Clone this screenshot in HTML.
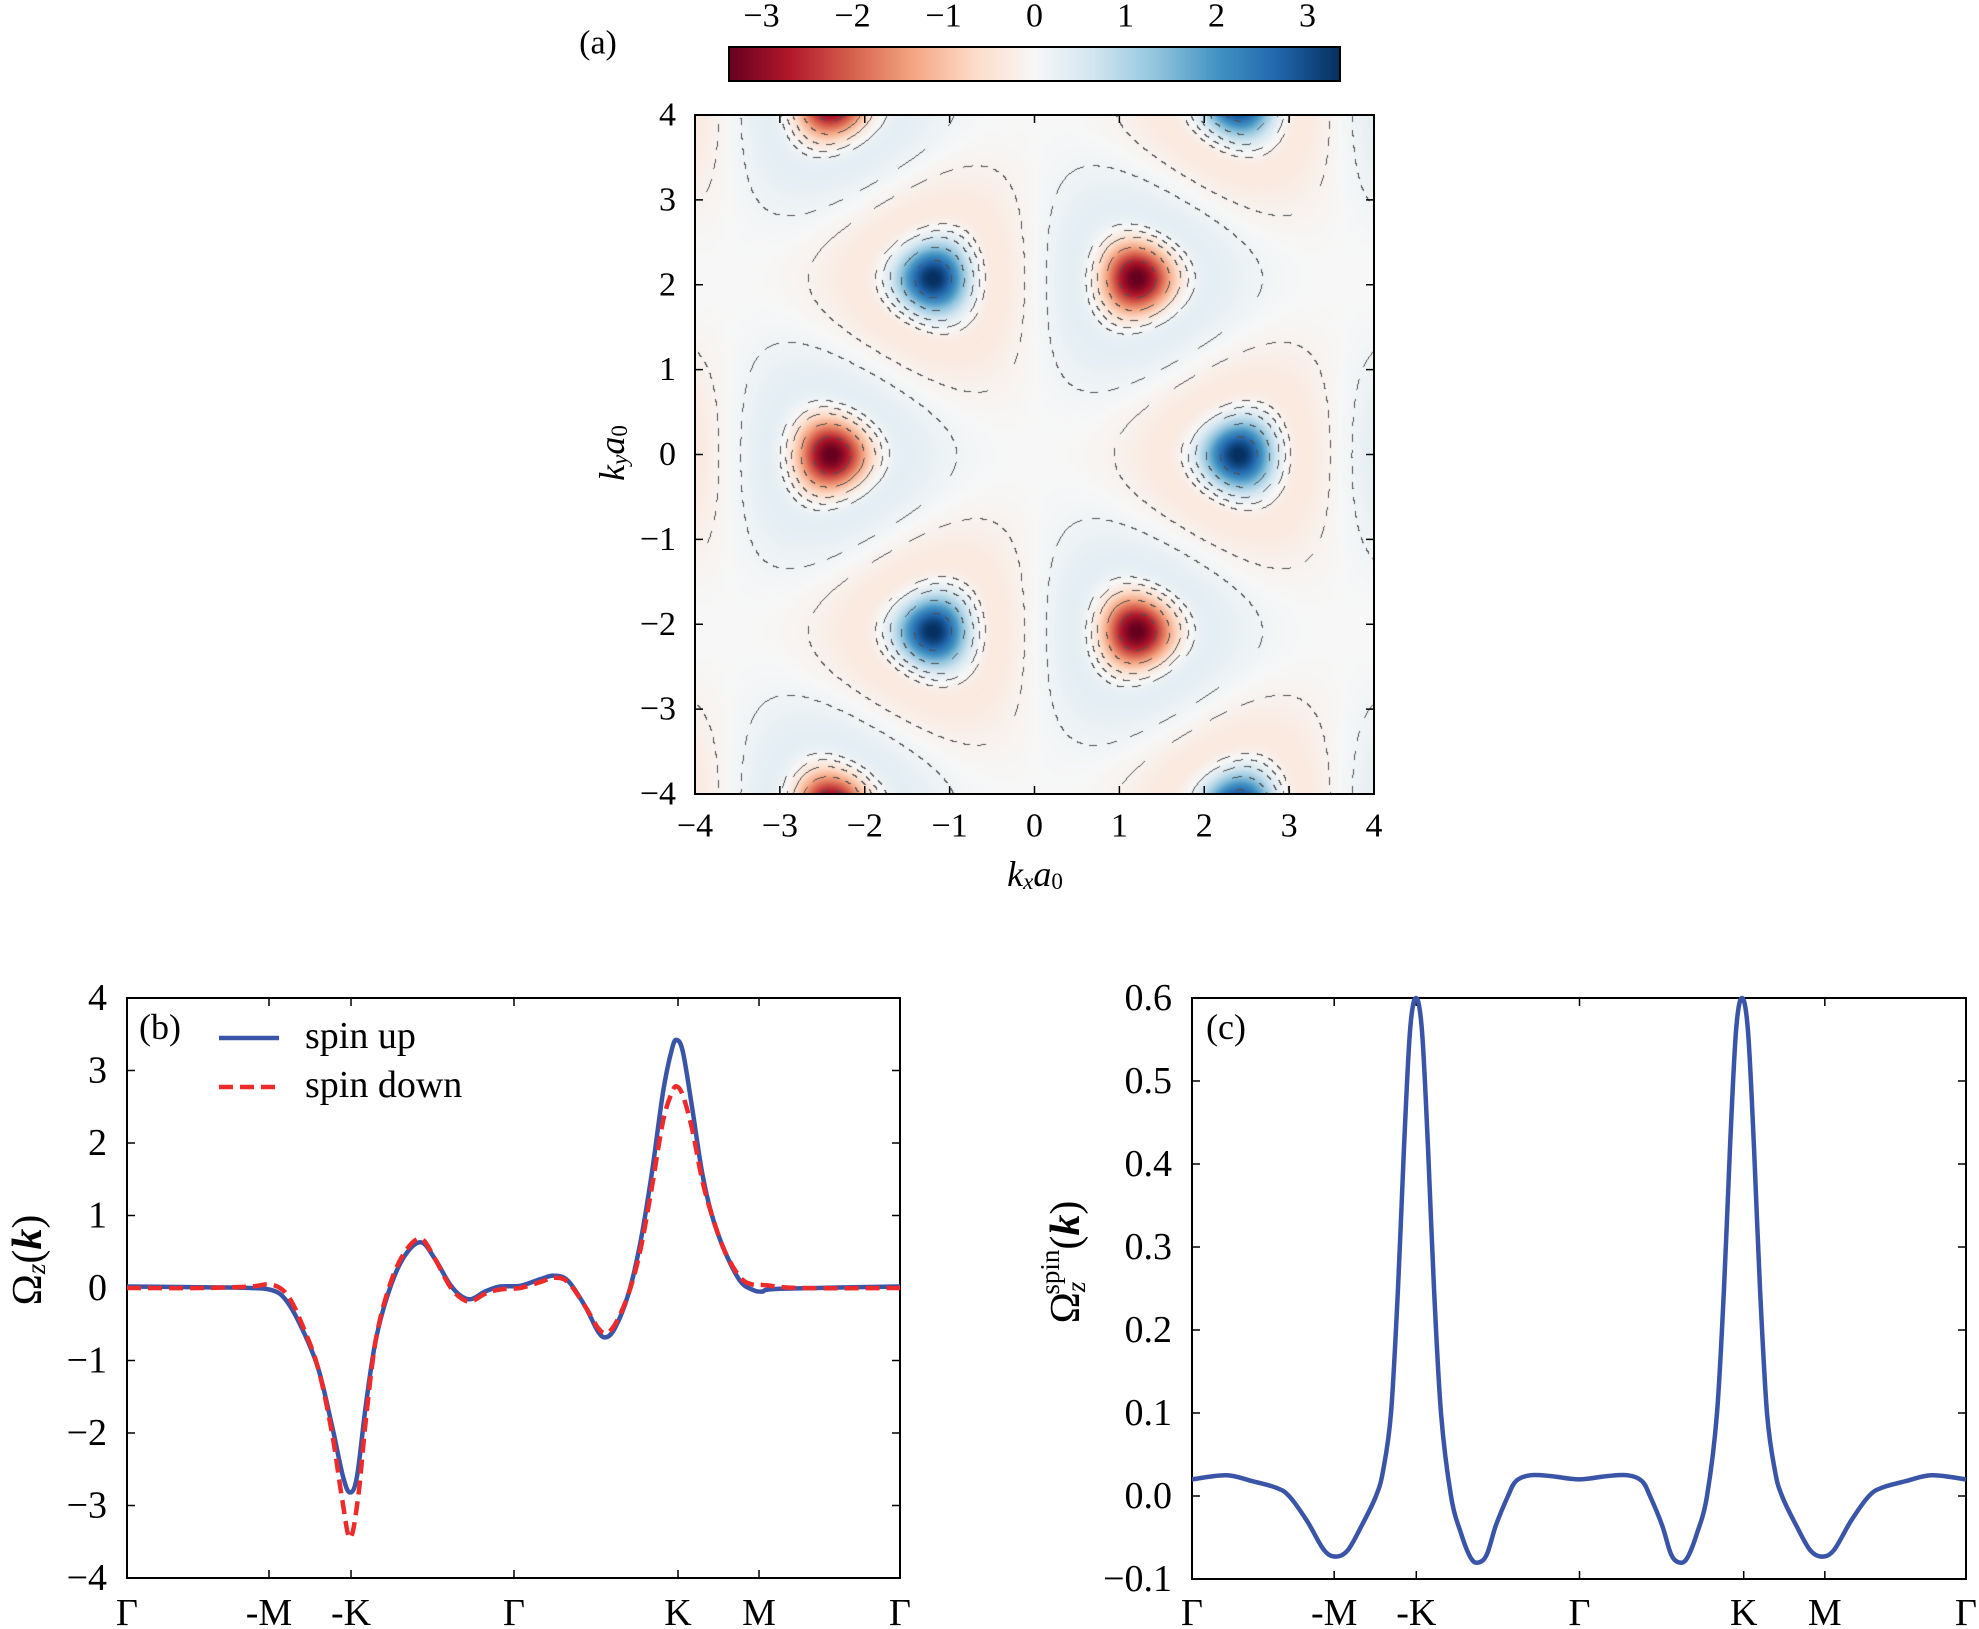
<!DOCTYPE html>
<html><head><meta charset="utf-8">
<style>
html,body{margin:0;padding:0;background:#fff;}
#wrap{position:relative;width:1979px;height:1629px;overflow:hidden;}
canvas{position:absolute;}
svg{position:absolute;left:0;top:0;}
text{font-family:"Liberation Serif","DejaVu Serif",serif;fill:#000;}
</style></head><body>
<div id="wrap">
<canvas id="hm" width="679" height="679" style="left:695px;top:115px;"></canvas>
<canvas id="cb" width="611" height="34" style="left:729px;top:47px;"></canvas>
<svg id="s" width="1979" height="1629" viewBox="0 0 1979 1629"></svg>
</div>
<script>
var cmap=["#67001f","#b2182b","#d6604d","#f4a582","#fddbc7","#f7f7f7","#d1e5f0","#92c5de","#4393c3","#2166ac","#053061"].map(function(h){return [parseInt(h.substr(1,2),16),parseInt(h.substr(3,2),16),parseInt(h.substr(5,2),16)];});
function col(v){var t=(v+3.35)/6.7;if(t<0)t=0;if(t>1)t=1;var f=t*10,i=Math.min(9,Math.floor(f)),r=f-i,a=cmap[i],b=cmap[i+1];return [a[0]+(b[0]-a[0])*r,a[1]+(b[1]-a[1])*r,a[2]+(b[2]-a[2])*r];}
var d=1.745;
function W(kx,ky){var s=0;for(var j=0;j<3;j++){var th=j*2*Math.PI/3;s+=Math.sin(d*(kx*Math.cos(th)+ky*Math.sin(th)));}return s;}
function Om(kx,ky){var x=-W(kx,ky)/2.598;return 4.1*Math.pow(x,7)-0.7*x;}
(function(){var c=document.getElementById('hm'),g=c.getContext('2d'),N=679,im=g.createImageData(N,N);
var V=new Float32Array(N*N);
for(var py=0;py<N;py++)for(var px=0;px<N;px++){var kx=-4+8*px/N,ky=4-8*py/N;var v=Om(kx,ky);V[py*N+px]=v;var cc=col(v),o=(py*N+px)*4;im.data[o]=cc[0];im.data[o+1]=cc[1];im.data[o+2]=cc[2];im.data[o+3]=255;}
var lv=[-2.5,-1.3,-0.5,-0.12,0.12,0.5,1.3,2.5];
for(var py=1;py<N;py++)for(var px=1;px<N;px++){var v=V[py*N+px],a=V[py*N+px-1],b=V[(py-1)*N+px];
for(var k=0;k<lv.length;k++){var L=lv[k];if((v-L)*(a-L)<0||(v-L)*(b-L)<0){if(((px+py)>>3)%2==0){var o=(py*N+px)*4;im.data[o]=80;im.data[o+1]=80;im.data[o+2]=80;}}}}
g.putImageData(im,0,0);
var c2=document.getElementById('cb'),g2=c2.getContext('2d');
for(var x=0;x<611;x++){var cc=col(-3.35+6.7*x/610);g2.fillStyle='rgb('+Math.round(cc[0])+','+Math.round(cc[1])+','+Math.round(cc[2])+')';g2.fillRect(x,0,1,34);}
})();
var S=document.getElementById('s'),out='';
function T(x,y,s,fs,anc,extra){out+='<text x="'+x+'" y="'+y+'" font-size="'+fs+'" text-anchor="'+(anc||'middle')+'" dominant-baseline="central" '+(extra||'')+'>'+s+'</text>';}
out+='<rect x="729" y="47" width="611" height="34" fill="none" stroke="#000" stroke-width="2"/>';
out+='<rect x="695" y="115" width="679" height="679" fill="none" stroke="#000" stroke-width="2"/>';
for(var i=-3;i<=3;i++){var x=1034.5+i*91;T(x,16,(i<0?'−':'')+Math.abs(i),34);}
for(var i=-4;i<=4;i++){var x=695+(i+4)*679/8,y=794-(i+4)*679/8;
 T(x,826,(i<0?'−':'')+Math.abs(i),34);T(676,y,(i<0?'−':'')+Math.abs(i),34,'end');
 out+='<line x1="'+x+'" y1="794" x2="'+x+'" y2="786" stroke="#000" stroke-width="1.5"/><line x1="'+x+'" y1="115" x2="'+x+'" y2="123" stroke="#000" stroke-width="1.5"/>';
 out+='<line x1="695" y1="'+y+'" x2="703" y2="'+y+'" stroke="#000" stroke-width="1.5"/><line x1="1374" y1="'+y+'" x2="1366" y2="'+y+'" stroke="#000" stroke-width="1.5"/>';}
T(598,43,'(a)',34);
T(1035,874,'<tspan font-style="italic">k</tspan><tspan font-style="italic" font-size="23" dy="7">x</tspan><tspan font-style="italic" dy="-7">a</tspan><tspan font-size="23" dy="7">0</tspan>',36);
out+='<g transform="translate(612,453) rotate(-90)"><text x="0" y="0" font-size="36" text-anchor="middle" dominant-baseline="central"><tspan font-style="italic">k</tspan><tspan font-style="italic" font-size="23" dy="7">y</tspan><tspan font-style="italic" dy="-7">a</tspan><tspan font-size="23" dy="7">0</tspan></text></g>';
function path(pts,X,Y){var p=pts.map(function(q){return [X(q[0]),Y(q[1])];});var s='M'+p[0][0].toFixed(1)+','+p[0][1].toFixed(1);
for(var i=0;i<p.length-1;i++){var p0=p[Math.max(0,i-1)],p1=p[i],p2=p[i+1],p3=p[Math.min(p.length-1,i+2)];
var c1=[p1[0]+(p2[0]-p0[0])/6,p1[1]+(p2[1]-p0[1])/6],c2=[p2[0]-(p3[0]-p1[0])/6,p2[1]-(p3[1]-p1[1])/6];
s+=' C'+c1[0].toFixed(1)+','+c1[1].toFixed(1)+' '+c2[0].toFixed(1)+','+c2[1].toFixed(1)+' '+p2[0].toFixed(1)+','+p2[1].toFixed(1);}return s;}
var xt=[127,269,351,514,678,759,900],xl=['Γ','-M','-K','Γ','K','M','Γ'];
var bT=998,bB=1578;function bY(v){return bB-(v+4)*(bB-bT)/8;}
out+='<rect x="127" y="998" width="773" height="580" fill="none" stroke="#000" stroke-width="2"/>';
for(var i=-4;i<=4;i++){var y=bY(i);T(107,y,(i<0?'−':'')+Math.abs(i),38,'end');out+='<line x1="127" y1="'+y+'" x2="135" y2="'+y+'" stroke="#000" stroke-width="1.5"/><line x1="900" y1="'+y+'" x2="892" y2="'+y+'" stroke="#000" stroke-width="1.5"/>';}
for(var i=0;i<7;i++){T(xt[i],1613,xl[i],38);out+='<line x1="'+xt[i]+'" y1="1578" x2="'+xt[i]+'" y2="1570" stroke="#000" stroke-width="1.5"/><line x1="'+xt[i]+'" y1="998" x2="'+xt[i]+'" y2="1006" stroke="#000" stroke-width="1.5"/>';}
var up=[[127,0.02],[200,0.01],[250,0],[272,-0.03],[285,-0.15],[300,-0.5],[318,-1.1],[332,-1.9],[343,-2.6],[350,-2.82],[357,-2.6],[366,-1.6],[376,-0.7],[390,0],[405,0.45],[421,0.63],[435,0.4],[450,0.05],[462,-0.12],[472,-0.15],[485,-0.05],[500,0.02],[520,0.03],[540,0.12],[554,0.17],[568,0.1],[585,-0.25],[598,-0.6],[606,-0.68],[615,-0.55],[628,-0.1],[640,0.6],[652,1.6],[663,2.7],[672,3.3],[677,3.42],[683,3.25],[692,2.5],[702,1.6],[712,1.0],[725,0.5],[740,0.1],[752,-0.02],[762,-0.05],[780,-0.01],[900,0.02]];
var dn=[[127,0],[200,0],[250,0.02],[268,0.05],[280,0.0],[290,-0.15],[302,-0.5],[318,-1.1],[332,-2.0],[342,-2.9],[350,-3.45],[358,-2.9],[366,-1.8],[376,-0.7],[390,0.05],[405,0.5],[421,0.68],[435,0.4],[450,0.02],[462,-0.15],[472,-0.18],[485,-0.08],[500,-0.02],[520,0],[540,0.08],[554,0.14],[568,0.08],[585,-0.25],[598,-0.55],[606,-0.62],[615,-0.5],[628,-0.1],[640,0.5],[652,1.4],[663,2.3],[672,2.7],[677,2.78],[683,2.65],[692,2.2],[702,1.5],[712,1.0],[725,0.5],[740,0.15],[752,0.05],[765,0.04],[800,0],[900,0]];
out+='<path d="'+path(up,function(x){return x;},bY)+'" fill="none" stroke="#3a55a8" stroke-width="4.5"/>';
out+='<path d="'+path(dn,function(x){return x;},bY)+'" fill="none" stroke="#ee2a2a" stroke-width="4.5" stroke-dasharray="14,7"/>';
T(160,1027,'(b)',36);
out+='<line x1="219" y1="1038" x2="279" y2="1038" stroke="#3a55a8" stroke-width="4.5"/><line x1="219" y1="1087" x2="279" y2="1087" stroke="#ee2a2a" stroke-width="4.5" stroke-dasharray="14,7"/>';
T(305,1036,'spin up',38,'start');T(305,1085,'spin down',38,'start');
out+='<g transform="translate(28,1260) rotate(-90)"><text x="0" y="0" font-size="42" text-anchor="middle" dominant-baseline="central">Ω<tspan font-style="italic" font-size="27" dy="8">z</tspan><tspan dy="-8">(</tspan><tspan font-style="italic" font-weight="bold">k</tspan>)</text></g>';
var cT=998,cB=1579;function cY(v){return cB-(v+0.1)*(cB-cT)/0.7;}
out+='<rect x="1192" y="998" width="774" height="581" fill="none" stroke="#000" stroke-width="2"/>';
for(var i=-1;i<=6;i++){var y=cY(i/10);T(1172,y,(i<0?'−':'')+(Math.abs(i)/10).toFixed(1),38,'end');out+='<line x1="1192" y1="'+y+'" x2="1200" y2="'+y+'" stroke="#000" stroke-width="1.5"/><line x1="1966" y1="'+y+'" x2="1958" y2="'+y+'" stroke="#000" stroke-width="1.5"/>';}
for(var i=0;i<7;i++){var x=1192+(xt[i]-127)*774/773;T(x,1613,xl[i],38);out+='<line x1="'+x+'" y1="1579" x2="'+x+'" y2="1571" stroke="#000" stroke-width="1.5"/><line x1="'+x+'" y1="998" x2="'+x+'" y2="1006" stroke="#000" stroke-width="1.5"/>';}
var half=[[0,0.02],[34,0.025],[60,0.018],[84,0.01],[97,0],[115,-0.03],[132,-0.065],[144,-0.073],[156,-0.065],[170,-0.035],[184,0]];
var cp=half.slice();
var pr=[[-41,0],[-33,0.03],[-25,0.1],[-18,0.25],[-12,0.42],[-6,0.56],[0,0.6],[6,0.56],[12,0.42],[18,0.25],[25,0.1],[35,0],[45,-0.045],[55,-0.075],[63,-0.08],[71,-0.07],[80,-0.035],[92,0],[100,0.018],[114,0.025],[135,0.024],[163,0.02]];
pr.slice(1).forEach(function(q){cp.push([224+q[0],q[1]]);});
var L=cp.length;for(var i=L-2;i>=0;i--){cp.push([774-cp[i][0],cp[i][1]]);}
cp.sort(function(a,b){return a[0]-b[0];});
out+='<path d="'+path(cp,function(x){return 1192+x;},cY)+'" fill="none" stroke="#3a55a8" stroke-width="4.5"/>';
T(1226,1027,'(c)',36);
out+='<g transform="translate(1066,1262) rotate(-90)"><text x="0" y="0" font-size="42" text-anchor="middle" dominant-baseline="central">Ω<tspan font-style="italic" font-size="27" dy="10">z</tspan><tspan font-size="27" dx="-13" dy="-26">spin</tspan><tspan dy="16">(</tspan><tspan font-style="italic" font-weight="bold">k</tspan>)</text></g>';
S.innerHTML=out;
</script>
</body></html>
